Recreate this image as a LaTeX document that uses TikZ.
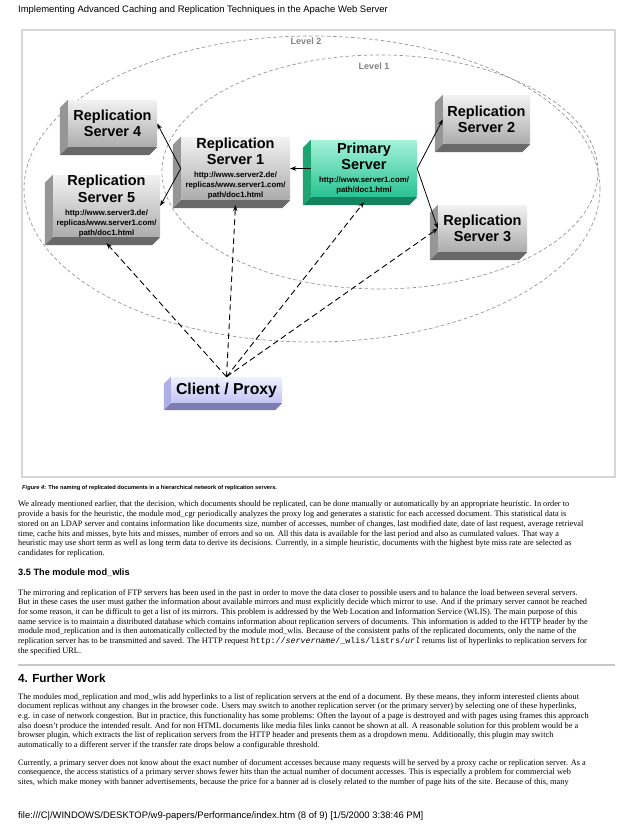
\documentclass[tikz,border=0pt]{standalone}
\usepackage{fontspec}
\setmainfont{Liberation Serif}
\setsansfont{Liberation Sans}
\setmonofont{Liberation Mono}
\usetikzlibrary{arrows.meta,calc}

\definecolor{framegray}{RGB}{215,215,215}
\definecolor{ellgray}{RGB}{150,150,150}
\definecolor{lvlgray}{RGB}{130,130,130}
\definecolor{gtop}{RGB}{242,242,242}
\definecolor{gbot}{RGB}{172,172,172}
\definecolor{gleft}{RGB}{150,150,150}
\definecolor{gbottom}{RGB}{105,105,105}
\definecolor{ptop}{RGB}{165,242,218}
\definecolor{pbot}{RGB}{40,195,145}
\definecolor{pleft}{RGB}{30,165,115}
\definecolor{pbottom}{RGB}{20,130,92}
\definecolor{ctop}{RGB}{240,240,255}
\definecolor{cbot}{RGB}{195,195,245}
\definecolor{cleft}{RGB}{175,175,232}
\definecolor{cbottom}{RGB}{125,125,178}
\definecolor{rulegray}{RGB}{200,200,200}

\newcommand\boxsides[4]{%
  \fill[#3] (#1.north west) -- ++(-#2,#2) -- ($(#1.south west)+(-#2,#2)$) -- (#1.south west) -- cycle;
  \fill[#4] (#1.south west) -- ++(-#2,#2) -- ($(#1.south east)+(-#2,#2)$) -- (#1.south east) -- cycle;
}
\newcommand\urlf{\fontsize{7.8}{9}\selectfont}

\tikzset{
  frontbox/.style={rectangle, rounded corners=1.2pt, inner sep=0pt, align=center,
    font=\sffamily\bfseries\fontsize{14.5}{16.5}\selectfont},
  graybox/.style={frontbox, top color=gtop, bottom color=gbot},
  primbox/.style={frontbox, top color=ptop, bottom color=pbot},
  clientbox/.style={frontbox, top color=ctop, bottom color=cbot,
    font=\sffamily\bfseries\fontsize{15.8}{18}\selectfont},
  lvl/.style={text=lvlgray, font=\sffamily\bfseries\fontsize{9}{10}\selectfont, inner sep=0pt},
  ell/.style={ellgray, line width=0.7pt, dash pattern=on 3.5pt off 2.5pt},
  solidconn/.style={black, line width=0.8pt, -{Stealth[length=6pt,width=4.5pt]}},
  dashconn/.style={black, line width=0.9pt, dash pattern=on 6pt off 3.5pt, -{Stealth[length=6pt,width=4.5pt]}},
  bodytext/.style={anchor=north west, inner sep=0pt, align=left, font=\fontsize{8.3}{9.7}\selectfont},
  headtext/.style={anchor=north west, inner sep=0pt, font=\sffamily\bfseries\fontsize{9.2}{10}\selectfont},
}

\begin{document}
\begin{tikzpicture}[x=1pt,y=-1pt]
\useasboundingbox (0,0) rectangle (638,826);
\path[fill=white] (0,0) rectangle (638,826);

% page header
\node[anchor=north west, inner sep=0pt, font=\sffamily\fontsize{9.45}{10}\selectfont] (hdr) at (18,5.5)
  {Implementing Advanced Caching and Replication Techniques in the Apache Web Server};

% figure frame
\draw[framegray, line width=1.2pt] (22,30) rectangle (615,477);

% levels
\draw[ell] (312,189) ellipse [x radius=288pt, y radius=153pt];
\draw[ell] (380,172) ellipse [x radius=218pt, y radius=117pt];
\node[lvl] (lv2) at (306,41) {Level 2};
\node[lvl] (lv1) at (374,66) {Level 1};

% boxes
\node[graybox, minimum width=89pt, minimum height=47pt] (s4) at (112.5,123.5) {Replication\\Server 4};
\boxsides{s4}{8}{gleft}{gbottom}

\node[graybox, minimum width=107pt, minimum height=62pt] (s5) at (106.5,206)
  {Replication\\Server 5\\[-3.5pt]{\urlf http://www.server3.de/}\\[-6.5pt]{\urlf replicas/www.server1.com/}\\[-6.5pt]{\urlf path/doc1.html}};
\boxsides{s5}{8}{gleft}{gbottom}

\node[graybox, minimum width=109pt, minimum height=63pt] (s1) at (235.5,168.5)
  {Replication\\Server 1\\[-3.5pt]{\urlf http://www.server2.de/}\\[-6.5pt]{\urlf replicas/www.server1.com/}\\[-6.5pt]{\urlf path/doc1.html}};
\boxsides{s1}{8}{gleft}{gbottom}

\node[primbox, minimum width=106pt, minimum height=57pt] (prim) at (364,168.5)
  {Primary\\Server\\[-3.5pt]{\urlf http://www.server1.com/}\\[-6.5pt]{\urlf path/doc1.html}};
\boxsides{prim}{8}{pleft}{pbottom}

\node[graybox, minimum width=87pt, minimum height=49pt] (s2) at (486.5,119.5) {Replication\\Server 2};
\boxsides{s2}{8}{gleft}{gbottom}

\node[graybox, minimum width=89pt, minimum height=47pt] (s3) at (482.5,228.5) {Replication\\Server 3};
\boxsides{s3}{8}{gleft}{gbottom}

\node[clientbox, minimum width=111pt, minimum height=26pt] (cl) at (226.5,390) {Client / Proxy};
\boxsides{cl}{7}{cleft}{cbottom}

% connectors
\draw[solidconn] (prim.west) -- (s1.east);
\draw[solidconn] (s1.west) -- (s4.east);
\draw[solidconn] (s1.west) -- (s5.east);
\draw[solidconn] (prim.east) -- (s2.west);
\draw[solidconn] (prim.east) -- (s3.west);

\draw[dashconn] (cl.north) -- ([yshift=-6pt]s5.south);
\draw[dashconn] (cl.north) -- ([yshift=-5pt]s1.south);
\draw[dashconn] (cl.north) -- ([yshift=-5pt]prim.south);
\draw[dashconn] (cl.north) -- (s3.west);

% caption
\node[anchor=north west, inner sep=0pt, font=\sffamily\bfseries\fontsize{5.7}{6.5}\selectfont] (cap) at (22,485.5)
  {\textit{Figure 4}: The naming of replicated documents in a hierarchical network of replication servers.};

% body text
\node[bodytext] (p1) at (18,501) {We already mentioned earlier, that the decision, which documents should be replicated, can be done manually or automatically by an appropriate heuristic. In order to\\
provide a basis for the heuristic, the module mod\_cgr periodically analyzes the proxy log and generates a statistic for each accessed document. This statistical data is\\
stored on an LDAP server and contains information like documents size, number of accesses, number of changes, last modified date, date of last request, average retrieval\\
time, cache hits and misses, byte hits and misses, number of errors and so on. All this data is available for the last period and also as cumulated values. That way a\\
heuristic may use short term as well as long term data to derive its decisions. Currently, in a simple heuristic, documents with the highest byte miss rate are selected as\\
candidates for replication.};

\node[headtext] (h35) at (18,569) {3.5 The module mod\_wlis};

\node[bodytext] (p2) at (18,589) {The mirroring and replication of FTP servers has been used in the past in order to move the data closer to possible users and to balance the load between several servers.\\
But in these cases the user must gather the information about available mirrors and must explicitly decide which mirror to use. And if the primary server cannot be reached\\
for some reason, it can be difficult to get a list of its mirrors. This problem is addressed by the Web Location and Information Service (WLIS). The main purpose of this\\
name service is to maintain a distributed database which contains information about replication servers of documents. This information is added to the HTTP header by the\\
module mod\_replication and is then automatically collected by the module mod\_wlis. Because of the consistent paths of the replicated documents, only the name of the\\
replication server has to be transmitted and saved. The HTTP request {\ttfamily http://\textit{servername}/\_wlis/listrs/\textit{url}} returns list of hyperlinks to replication servers for\\
the specified URL.};

\draw[rulegray, line width=1.5pt] (18,665) -- (615,665);

\node[anchor=north west, inner sep=0pt, font=\sffamily\bfseries\fontsize{11.7}{13}\selectfont] (h4) at (18,674) {4. Further Work};

\node[bodytext] (p3) at (18,693) {The modules mod\_replication and mod\_wlis add hyperlinks to a list of replication servers at the end of a document. By these means, they inform interested clients about\\
document replicas without any changes in the browser code. Users may switch to another replication server (or the primary server) by selecting one of these hyperlinks,\\
e.g. in case of network congestion. But in practice, this functionality has some problems: Often the layout of a page is destroyed and with pages using frames this approach\\
also doesn't produce the intended result. And for non HTML documents like media files links cannot be shown at all. A reasonable solution for this problem would be a\\
browser plugin, which extracts the list of replication servers from the HTTP header and presents them as a dropdown menu. Additionally, this plugin may switch\\
automatically to a different server if the transfer rate drops below a configurable threshold.};

\node[bodytext] (p4) at (18,759) {Currently, a primary server does not know about the exact number of document accesses because many requests will be served by a proxy cache or replication server. As a\\
consequence, the access statistics of a primary server shows fewer hits than the actual number of document accesses. This is especially a problem for commercial web\\
sites, which make money with banner advertisements, because the price for a banner ad is closely related to the number of page hits of the site. Because of this, many};

% footer
\node[anchor=north west, inner sep=0pt, font=\sffamily\fontsize{9.45}{11}\selectfont] (ftr) at (18,811)
  {file:///C|/WINDOWS/DESKTOP/w9-papers/Performance/index.htm (8 of 9) [1/5/2000 3:38:46 PM]};
\end{tikzpicture}
\end{document}
